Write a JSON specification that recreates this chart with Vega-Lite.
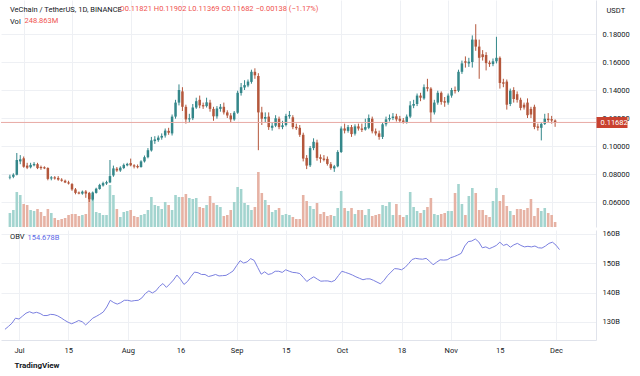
{
  "$schema": "https://vega.github.io/schema/vega-lite/v6.json",
  "padding": 0,
  "background": "white",
  "config": {"view": {"stroke": null}, "font": "Roboto"},
  "title": {"text": "TradingView", "orient": "bottom", "anchor": "start", "frame": "bounds", "fontSize": 8, "fontWeight": "bold", "color": "#131722", "offset": 8, "dx": 14},
  "data": {"values": [
    {"t":"2021-06-27","o":0.0775,"h":0.0795,"l":0.0762,"c":0.078,"v":700,"b":127.5},
    {"t":"2021-06-28","o":0.078,"h":0.0805,"l":0.077,"c":0.0795,"v":850,"b":128.5},
    {"t":"2021-06-29","o":0.0795,"h":0.095,"l":0.079,"c":0.09,"v":1750,"b":129.6},
    {"t":"2021-06-30","o":0.089,"h":0.0935,"l":0.087,"c":0.0905,"v":1600,"b":131.3},
    {"t":"2021-07-01","o":0.0912,"h":0.0925,"l":0.0845,"c":0.0852,"v":1150,"b":131.0},
    {"t":"2021-07-02","o":0.086,"h":0.088,"l":0.0835,"c":0.0845,"v":1100,"b":132.0},
    {"t":"2021-07-03","o":0.0848,"h":0.088,"l":0.084,"c":0.0865,"v":850,"b":133.0},
    {"t":"2021-07-04","o":0.0862,"h":0.0885,"l":0.0855,"c":0.0872,"v":800,"b":133.5},
    {"t":"2021-07-05","o":0.087,"h":0.088,"l":0.0835,"c":0.0842,"v":900,"b":133.0},
    {"t":"2021-07-06","o":0.085,"h":0.086,"l":0.083,"c":0.0842,"v":750,"b":133.3},
    {"t":"2021-07-07","o":0.0848,"h":0.0855,"l":0.0835,"c":0.084,"v":550,"b":132.9},
    {"t":"2021-07-08","o":0.0843,"h":0.0848,"l":0.0755,"c":0.0765,"v":900,"b":132.2},
    {"t":"2021-07-09","o":0.0768,"h":0.0785,"l":0.0755,"c":0.0776,"v":700,"b":132.2},
    {"t":"2021-07-10","o":0.0776,"h":0.0785,"l":0.076,"c":0.0768,"v":450,"b":132.6},
    {"t":"2021-07-11","o":0.0772,"h":0.0785,"l":0.0752,"c":0.076,"v":350,"b":132.5},
    {"t":"2021-07-12","o":0.076,"h":0.077,"l":0.0745,"c":0.0752,"v":400,"b":132.1},
    {"t":"2021-07-13","o":0.0752,"h":0.076,"l":0.0735,"c":0.074,"v":450,"b":131.4},
    {"t":"2021-07-14","o":0.074,"h":0.0752,"l":0.0725,"c":0.0732,"v":600,"b":130.6},
    {"t":"2021-07-15","o":0.0728,"h":0.0735,"l":0.068,"c":0.069,"v":650,"b":129.9},
    {"t":"2021-07-16","o":0.069,"h":0.07,"l":0.0655,"c":0.0665,"v":650,"b":129.4},
    {"t":"2021-07-17","o":0.0668,"h":0.0675,"l":0.0655,"c":0.066,"v":550,"b":129.9},
    {"t":"2021-07-18","o":0.066,"h":0.0682,"l":0.0652,"c":0.0674,"v":600,"b":130.5},
    {"t":"2021-07-19","o":0.0675,"h":0.0685,"l":0.063,"c":0.066,"v":650,"b":130.1},
    {"t":"2021-07-20","o":0.0665,"h":0.0672,"l":0.06,"c":0.062,"v":1650,"b":129.0},
    {"t":"2021-07-21","o":0.0618,"h":0.0675,"l":0.061,"c":0.0668,"v":1600,"b":130.1},
    {"t":"2021-07-22","o":0.0665,"h":0.0702,"l":0.066,"c":0.0695,"v":750,"b":131.3},
    {"t":"2021-07-23","o":0.0693,"h":0.073,"l":0.0688,"c":0.0722,"v":700,"b":131.9},
    {"t":"2021-07-24","o":0.0718,"h":0.0745,"l":0.071,"c":0.0735,"v":600,"b":132.6},
    {"t":"2021-07-25","o":0.0732,"h":0.0752,"l":0.0722,"c":0.0742,"v":600,"b":133.4},
    {"t":"2021-07-26","o":0.074,"h":0.09,"l":0.0735,"c":0.0785,"v":2100,"b":135.1},
    {"t":"2021-07-27","o":0.079,"h":0.086,"l":0.078,"c":0.084,"v":1600,"b":137.4},
    {"t":"2021-07-28","o":0.0838,"h":0.085,"l":0.0815,"c":0.0825,"v":900,"b":136.6},
    {"t":"2021-07-29","o":0.0825,"h":0.0855,"l":0.0815,"c":0.0845,"v":500,"b":136.1},
    {"t":"2021-07-30","o":0.0843,"h":0.0875,"l":0.0835,"c":0.0865,"v":750,"b":136.6},
    {"t":"2021-07-31","o":0.0862,"h":0.088,"l":0.0855,"c":0.0872,"v":800,"b":137.4},
    {"t":"2021-08-01","o":0.0878,"h":0.091,"l":0.0855,"c":0.0862,"v":850,"b":137.4},
    {"t":"2021-08-02","o":0.0862,"h":0.087,"l":0.084,"c":0.0853,"v":550,"b":137.1},
    {"t":"2021-08-03","o":0.0857,"h":0.0868,"l":0.084,"c":0.0848,"v":500,"b":137.3},
    {"t":"2021-08-04","o":0.085,"h":0.0898,"l":0.0845,"c":0.089,"v":600,"b":137.4},
    {"t":"2021-08-05","o":0.089,"h":0.0932,"l":0.0882,"c":0.092,"v":650,"b":138.2},
    {"t":"2021-08-06","o":0.092,"h":0.0985,"l":0.0912,"c":0.097,"v":850,"b":139.7},
    {"t":"2021-08-07","o":0.0968,"h":0.1065,"l":0.096,"c":0.104,"v":1500,"b":140.6},
    {"t":"2021-08-08","o":0.1035,"h":0.107,"l":0.1015,"c":0.1047,"v":1100,"b":139.9},
    {"t":"2021-08-09","o":0.1042,"h":0.1075,"l":0.103,"c":0.106,"v":1050,"b":140.6},
    {"t":"2021-08-10","o":0.106,"h":0.109,"l":0.1045,"c":0.1072,"v":900,"b":142.1},
    {"t":"2021-08-11","o":0.1075,"h":0.1125,"l":0.106,"c":0.111,"v":1250,"b":143.1},
    {"t":"2021-08-12","o":0.1108,"h":0.113,"l":0.108,"c":0.1095,"v":1100,"b":141.8},
    {"t":"2021-08-13","o":0.109,"h":0.1225,"l":0.1075,"c":0.121,"v":850,"b":143.0},
    {"t":"2021-08-14","o":0.121,"h":0.133,"l":0.1195,"c":0.131,"v":1600,"b":144.3},
    {"t":"2021-08-15","o":0.131,"h":0.144,"l":0.129,"c":0.14,"v":1500,"b":146.0},
    {"t":"2021-08-16","o":0.139,"h":0.142,"l":0.125,"c":0.128,"v":1500,"b":144.6},
    {"t":"2021-08-17","o":0.128,"h":0.1295,"l":0.116,"c":0.119,"v":1650,"b":142.8},
    {"t":"2021-08-18","o":0.119,"h":0.123,"l":0.1165,"c":0.1198,"v":1450,"b":143.8},
    {"t":"2021-08-19","o":0.1198,"h":0.13,"l":0.1185,"c":0.1275,"v":1400,"b":145.5},
    {"t":"2021-08-20","o":0.1275,"h":0.1345,"l":0.1265,"c":0.132,"v":1450,"b":147.0},
    {"t":"2021-08-21","o":0.133,"h":0.136,"l":0.127,"c":0.129,"v":1000,"b":146.8},
    {"t":"2021-08-22","o":0.1292,"h":0.131,"l":0.1265,"c":0.1283,"v":950,"b":146.2},
    {"t":"2021-08-23","o":0.1285,"h":0.1345,"l":0.1275,"c":0.1312,"v":1100,"b":146.2},
    {"t":"2021-08-24","o":0.131,"h":0.133,"l":0.1245,"c":0.1265,"v":1550,"b":145.5},
    {"t":"2021-08-25","o":0.1265,"h":0.128,"l":0.118,"c":0.1212,"v":1200,"b":145.8},
    {"t":"2021-08-26","o":0.1212,"h":0.1285,"l":0.1195,"c":0.1268,"v":1100,"b":146.2},
    {"t":"2021-08-27","o":0.1265,"h":0.13,"l":0.1245,"c":0.128,"v":1000,"b":145.7},
    {"t":"2021-08-28","o":0.128,"h":0.131,"l":0.1225,"c":0.124,"v":550,"b":145.8},
    {"t":"2021-08-29","o":0.124,"h":0.1255,"l":0.12,"c":0.1218,"v":600,"b":145.9},
    {"t":"2021-08-30","o":0.1218,"h":0.1235,"l":0.117,"c":0.119,"v":850,"b":146.6},
    {"t":"2021-08-31","o":0.119,"h":0.125,"l":0.118,"c":0.1238,"v":1250,"b":147.4},
    {"t":"2021-09-01","o":0.1238,"h":0.1395,"l":0.123,"c":0.138,"v":2000,"b":149.2},
    {"t":"2021-09-02","o":0.1378,"h":0.145,"l":0.136,"c":0.142,"v":1900,"b":150.9},
    {"t":"2021-09-03","o":0.1418,"h":0.147,"l":0.14,"c":0.1435,"v":1200,"b":150.1},
    {"t":"2021-09-04","o":0.1432,"h":0.1475,"l":0.142,"c":0.146,"v":1100,"b":150.5},
    {"t":"2021-09-05","o":0.1458,"h":0.1545,"l":0.1445,"c":0.153,"v":850,"b":151.6},
    {"t":"2021-09-06","o":0.153,"h":0.1555,"l":0.148,"c":0.1505,"v":1000,"b":151.0},
    {"t":"2021-09-07","o":0.15,"h":0.152,"l":0.097,"c":0.124,"v":2750,"b":148.6},
    {"t":"2021-09-08","o":0.124,"h":0.128,"l":0.115,"c":0.1195,"v":1700,"b":146.3},
    {"t":"2021-09-09","o":0.1195,"h":0.124,"l":0.117,"c":0.1207,"v":1350,"b":147.1},
    {"t":"2021-09-10","o":0.121,"h":0.124,"l":0.1115,"c":0.1135,"v":1100,"b":146.2},
    {"t":"2021-09-11","o":0.113,"h":0.117,"l":0.111,"c":0.1145,"v":750,"b":146.5},
    {"t":"2021-09-12","o":0.1145,"h":0.122,"l":0.1135,"c":0.1198,"v":850,"b":147.3},
    {"t":"2021-09-13","o":0.1195,"h":0.121,"l":0.112,"c":0.1135,"v":950,"b":147.3},
    {"t":"2021-09-14","o":0.1135,"h":0.118,"l":0.112,"c":0.1148,"v":600,"b":146.9},
    {"t":"2021-09-15","o":0.115,"h":0.123,"l":0.114,"c":0.1215,"v":650,"b":147.8},
    {"t":"2021-09-16","o":0.1212,"h":0.125,"l":0.1195,"c":0.1222,"v":600,"b":147.3},
    {"t":"2021-09-17","o":0.1205,"h":0.122,"l":0.112,"c":0.1135,"v":500,"b":146.9},
    {"t":"2021-09-18","o":0.1137,"h":0.116,"l":0.1115,"c":0.1127,"v":400,"b":146.8},
    {"t":"2021-09-19","o":0.113,"h":0.115,"l":0.1065,"c":0.108,"v":400,"b":146.5},
    {"t":"2021-09-20","o":0.108,"h":0.1095,"l":0.089,"c":0.091,"v":1600,"b":145.2},
    {"t":"2021-09-21","o":0.0915,"h":0.0935,"l":0.0835,"c":0.086,"v":1300,"b":143.8},
    {"t":"2021-09-22","o":0.0862,"h":0.1,"l":0.085,"c":0.0985,"v":1050,"b":144.7},
    {"t":"2021-09-23","o":0.0985,"h":0.1055,"l":0.097,"c":0.103,"v":900,"b":145.4},
    {"t":"2021-09-24","o":0.1025,"h":0.1045,"l":0.0895,"c":0.0915,"v":1200,"b":144.6},
    {"t":"2021-09-25","o":0.092,"h":0.094,"l":0.088,"c":0.0908,"v":650,"b":143.9},
    {"t":"2021-09-26","o":0.091,"h":0.0935,"l":0.089,"c":0.0901,"v":750,"b":144.0},
    {"t":"2021-09-27","o":0.0908,"h":0.0925,"l":0.086,"c":0.0872,"v":550,"b":144.0},
    {"t":"2021-09-28","o":0.087,"h":0.0885,"l":0.083,"c":0.0842,"v":600,"b":143.7},
    {"t":"2021-09-29","o":0.084,"h":0.0865,"l":0.0815,"c":0.0855,"v":550,"b":144.2},
    {"t":"2021-09-30","o":0.0855,"h":0.097,"l":0.0848,"c":0.0957,"v":950,"b":145.8},
    {"t":"2021-10-01","o":0.0957,"h":0.114,"l":0.095,"c":0.1125,"v":1800,"b":147.3},
    {"t":"2021-10-02","o":0.1125,"h":0.116,"l":0.109,"c":0.111,"v":950,"b":146.9},
    {"t":"2021-10-03","o":0.1108,"h":0.115,"l":0.1095,"c":0.1135,"v":800,"b":146.5},
    {"t":"2021-10-04","o":0.1135,"h":0.115,"l":0.1065,"c":0.1085,"v":950,"b":146.0},
    {"t":"2021-10-05","o":0.1088,"h":0.1155,"l":0.1075,"c":0.114,"v":650,"b":145.4},
    {"t":"2021-10-06","o":0.114,"h":0.116,"l":0.111,"c":0.1125,"v":850,"b":144.9},
    {"t":"2021-10-07","o":0.1125,"h":0.116,"l":0.11,"c":0.1115,"v":850,"b":144.4},
    {"t":"2021-10-08","o":0.1117,"h":0.1195,"l":0.111,"c":0.1135,"v":600,"b":144.7},
    {"t":"2021-10-09","o":0.113,"h":0.1225,"l":0.112,"c":0.12,"v":900,"b":144.7},
    {"t":"2021-10-10","o":0.1195,"h":0.121,"l":0.109,"c":0.1105,"v":550,"b":144.2},
    {"t":"2021-10-11","o":0.1105,"h":0.1125,"l":0.1075,"c":0.109,"v":600,"b":143.6},
    {"t":"2021-10-12","o":0.109,"h":0.111,"l":0.1045,"c":0.1065,"v":650,"b":143.0},
    {"t":"2021-10-13","o":0.1065,"h":0.117,"l":0.105,"c":0.1155,"v":1100,"b":144.2},
    {"t":"2021-10-14","o":0.1155,"h":0.121,"l":0.114,"c":0.119,"v":1050,"b":145.8},
    {"t":"2021-10-15","o":0.119,"h":0.1225,"l":0.1175,"c":0.12,"v":1250,"b":147.0},
    {"t":"2021-10-16","o":0.12,"h":0.1235,"l":0.1185,"c":0.121,"v":600,"b":148.2},
    {"t":"2021-10-17","o":0.1212,"h":0.123,"l":0.1175,"c":0.119,"v":1150,"b":148.1},
    {"t":"2021-10-18","o":0.1195,"h":0.1215,"l":0.1165,"c":0.118,"v":600,"b":147.8},
    {"t":"2021-10-19","o":0.1182,"h":0.12,"l":0.116,"c":0.1172,"v":500,"b":148.6},
    {"t":"2021-10-20","o":0.1172,"h":0.1225,"l":0.116,"c":0.121,"v":600,"b":149.9},
    {"t":"2021-10-21","o":0.121,"h":0.132,"l":0.12,"c":0.129,"v":1750,"b":151.3},
    {"t":"2021-10-22","o":0.1288,"h":0.133,"l":0.127,"c":0.13,"v":1000,"b":151.7},
    {"t":"2021-10-23","o":0.13,"h":0.1375,"l":0.1285,"c":0.136,"v":800,"b":151.5},
    {"t":"2021-10-24","o":0.136,"h":0.138,"l":0.132,"c":0.1345,"v":700,"b":151.4},
    {"t":"2021-10-25","o":0.134,"h":0.144,"l":0.133,"c":0.142,"v":850,"b":151.7},
    {"t":"2021-10-26","o":0.142,"h":0.148,"l":0.139,"c":0.141,"v":1000,"b":150.7},
    {"t":"2021-10-27","o":0.141,"h":0.142,"l":0.117,"c":0.124,"v":1450,"b":149.5},
    {"t":"2021-10-28","o":0.124,"h":0.133,"l":0.1225,"c":0.131,"v":650,"b":150.4},
    {"t":"2021-10-29","o":0.131,"h":0.1395,"l":0.1295,"c":0.138,"v":600,"b":151.2},
    {"t":"2021-10-30","o":0.138,"h":0.139,"l":0.1295,"c":0.1315,"v":650,"b":151.1},
    {"t":"2021-10-31","o":0.132,"h":0.135,"l":0.128,"c":0.131,"v":700,"b":151.2},
    {"t":"2021-11-01","o":0.131,"h":0.1375,"l":0.1295,"c":0.136,"v":800,"b":151.9},
    {"t":"2021-11-02","o":0.136,"h":0.1415,"l":0.1345,"c":0.14,"v":800,"b":152.3},
    {"t":"2021-11-03","o":0.14,"h":0.1425,"l":0.1375,"c":0.1392,"v":1700,"b":152.8},
    {"t":"2021-11-04","o":0.1395,"h":0.1545,"l":0.1385,"c":0.153,"v":2150,"b":153.4},
    {"t":"2021-11-05","o":0.153,"h":0.161,"l":0.1515,"c":0.159,"v":1150,"b":155.9},
    {"t":"2021-11-06","o":0.1605,"h":0.164,"l":0.156,"c":0.1595,"v":600,"b":157.4},
    {"t":"2021-11-07","o":0.159,"h":0.163,"l":0.1565,"c":0.1602,"v":1550,"b":157.6},
    {"t":"2021-11-08","o":0.16,"h":0.179,"l":0.156,"c":0.176,"v":1950,"b":158.3},
    {"t":"2021-11-09","o":0.176,"h":0.187,"l":0.168,"c":0.171,"v":1700,"b":157.3},
    {"t":"2021-11-10","o":0.171,"h":0.176,"l":0.148,"c":0.163,"v":850,"b":155.3},
    {"t":"2021-11-11","o":0.1655,"h":0.1685,"l":0.161,"c":0.1635,"v":850,"b":155.6},
    {"t":"2021-11-12","o":0.165,"h":0.167,"l":0.154,"c":0.1592,"v":600,"b":155.0},
    {"t":"2021-11-13","o":0.1595,"h":0.161,"l":0.1565,"c":0.1585,"v":500,"b":155.5},
    {"t":"2021-11-14","o":0.1585,"h":0.1625,"l":0.157,"c":0.1605,"v":1300,"b":156.1},
    {"t":"2021-11-15","o":0.1605,"h":0.178,"l":0.159,"c":0.163,"v":1950,"b":157.2},
    {"t":"2021-11-16","o":0.163,"h":0.164,"l":0.141,"c":0.145,"v":1300,"b":156.1},
    {"t":"2021-11-17","o":0.1455,"h":0.148,"l":0.142,"c":0.1445,"v":1600,"b":156.5},
    {"t":"2021-11-18","o":0.146,"h":0.1475,"l":0.126,"c":0.1295,"v":1050,"b":155.5},
    {"t":"2021-11-19","o":0.13,"h":0.141,"l":0.1285,"c":0.1395,"v":800,"b":156.3},
    {"t":"2021-11-20","o":0.14,"h":0.142,"l":0.131,"c":0.1335,"v":600,"b":156.8},
    {"t":"2021-11-21","o":0.137,"h":0.139,"l":0.131,"c":0.133,"v":900,"b":156.1},
    {"t":"2021-11-22","o":0.133,"h":0.1345,"l":0.1255,"c":0.1272,"v":900,"b":155.6},
    {"t":"2021-11-23","o":0.1295,"h":0.131,"l":0.126,"c":0.1275,"v":850,"b":155.8},
    {"t":"2021-11-24","o":0.131,"h":0.134,"l":0.12,"c":0.122,"v":950,"b":155.6},
    {"t":"2021-11-25","o":0.1265,"h":0.128,"l":0.12,"c":0.1225,"v":1400,"b":155.9},
    {"t":"2021-11-26","o":0.128,"h":0.1295,"l":0.112,"c":0.1136,"v":550,"b":155.3},
    {"t":"2021-11-27","o":0.114,"h":0.116,"l":0.111,"c":0.113,"v":950,"b":155.2},
    {"t":"2021-11-28","o":0.113,"h":0.117,"l":0.104,"c":0.1158,"v":800,"b":155.9},
    {"t":"2021-11-29","o":0.1158,"h":0.123,"l":0.115,"c":0.1195,"v":950,"b":156.8},
    {"t":"2021-11-30","o":0.1195,"h":0.1235,"l":0.117,"c":0.1185,"v":700,"b":157.2},
    {"t":"2021-12-01","o":0.1192,"h":0.1215,"l":0.116,"c":0.1182,"v":600,"b":156.2},
    {"t":"2021-12-02","o":0.11821,"h":0.11902,"l":0.11369,"c":0.11682,"v":248.863,"b":154.678}
  ]},
  "spacing": 2,
  "vconcat": [
    {
      "width": 595,
      "height": 227,
      "title": {"text": "VeChain / TetherUS, 1D, BINANCE", "subtitle": "Vol", "anchor": "start", "frame": "group", "dx": 9, "offset": -25, "fontSize": 7.5, "fontWeight": "normal", "color": "#131722", "subtitleFontSize": 7.5, "subtitleColor": "#131722", "subtitlePadding": 4},
      "layer": [
        {
          "mark": {"type": "bar", "width": 2.6},
          "encoding": {
            "x": {"field": "t", "type": "temporal",
              "scale": {"type": "utc", "domain": [{"year":2021,"month":6,"date":25,"hours":20,"minutes":53,"utc":true},{"year":2021,"month":12,"date":12,"hours":9,"minutes":36,"utc":true}]},
              "axis": {"values": [{"year":2021,"month":7,"date":1,"utc":true},{"year":2021,"month":7,"date":15,"utc":true},{"year":2021,"month":8,"date":1,"utc":true},{"year":2021,"month":8,"date":16,"utc":true},{"year":2021,"month":9,"date":1,"utc":true},{"year":2021,"month":9,"date":15,"utc":true},{"year":2021,"month":10,"date":1,"utc":true},{"year":2021,"month":10,"date":18,"utc":true},{"year":2021,"month":11,"date":1,"utc":true},{"year":2021,"month":11,"date":15,"utc":true},{"year":2021,"month":12,"date":1,"utc":true}],
                "labels": false, "ticks": false, "domain": false, "grid": true, "gridColor": "#eef0f4",
                "title": "O0.11821  H0.11902  L0.11369  C0.11682  −0.00138 (−1.17%)", "titleColor": "#ef5350", "titleFontSize": 7.5, "titleFontWeight": "normal", "titleAngle": 0, "titleAlign": "left", "titleBaseline": "middle", "titleX": 118, "titleY": -219}},
            "y": {"field": "v", "type": "quantitative", "scale": {"domain": [0, 11350], "nice": false},
              "axis": {"orient": "left", "labels": false, "ticks": false, "domain": false, "grid": false,
                "title": "248.863M", "titleColor": "#ef5350", "titleFontSize": 7.5, "titleFontWeight": "normal", "titleAngle": 0, "titleAlign": "left", "titleBaseline": "middle", "titleX": 23, "titleY": 20}},
            "color": {"condition": {"test": "datum.c >= datum.o", "value": "#a3d4cf"}, "value": "#e6b2a4"}
          }
        },
        {
          "layer": [
            {
              "mark": {"type": "rule", "strokeWidth": 1},
              "encoding": {
                "x": {"field": "t", "type": "temporal",
                  "scale": {"type": "utc", "domain": [{"year":2021,"month":6,"date":25,"hours":20,"minutes":53,"utc":true},{"year":2021,"month":12,"date":12,"hours":9,"minutes":36,"utc":true}]},
                  "axis": {"values": [{"year":2021,"month":7,"date":1,"utc":true},{"year":2021,"month":7,"date":15,"utc":true},{"year":2021,"month":8,"date":1,"utc":true},{"year":2021,"month":8,"date":16,"utc":true},{"year":2021,"month":9,"date":1,"utc":true},{"year":2021,"month":9,"date":15,"utc":true},{"year":2021,"month":10,"date":1,"utc":true},{"year":2021,"month":10,"date":18,"utc":true},{"year":2021,"month":11,"date":1,"utc":true},{"year":2021,"month":11,"date":15,"utc":true},{"year":2021,"month":12,"date":1,"utc":true}],
                    "labels": false, "ticks": false, "domain": false, "grid": true, "gridColor": "#eef0f4",
                    "title": "O0.11821  H0.11902  L0.11369  C0.11682  −0.00138 (−1.17%)", "titleColor": "#ef5350", "titleFontSize": 7.5, "titleFontWeight": "normal", "titleAngle": 0, "titleAlign": "left", "titleBaseline": "middle", "titleX": 118, "titleY": -219}},
                "y": {"field": "l", "type": "quantitative", "scale": {"domain": [0.042143, 0.204286], "nice": false, "zero": false},
                  "axis": {"orient": "right", "values": [0.06, 0.08, 0.1, 0.12, 0.14, 0.16, 0.18], "format": ".5f", "grid": true, "gridColor": "#eef0f4", "ticks": false, "domain": true, "domainColor": "#e0e3eb", "labelFontSize": 7.5, "labelColor": "#131722", "labelPadding": 6,
                    "title": "USDT", "titleAngle": 0, "titleFontSize": 7.5, "titleFontWeight": "normal", "titleColor": "#131722", "titleAlign": "left", "titleBaseline": "middle", "titleX": 10, "titleY": 10}},
                "y2": {"field": "h"},
                "color": {"condition": {"test": "datum.c >= datum.o", "value": "#34878a"}, "value": "#b4573c"}
              }
            },
            {
              "mark": {"type": "bar", "width": 2.5},
              "encoding": {
                "x": {"field": "t", "type": "temporal",
                  "scale": {"type": "utc", "domain": [{"year":2021,"month":6,"date":25,"hours":20,"minutes":53,"utc":true},{"year":2021,"month":12,"date":12,"hours":9,"minutes":36,"utc":true}]},
                  "axis": {"values": [{"year":2021,"month":7,"date":1,"utc":true},{"year":2021,"month":7,"date":15,"utc":true},{"year":2021,"month":8,"date":1,"utc":true},{"year":2021,"month":8,"date":16,"utc":true},{"year":2021,"month":9,"date":1,"utc":true},{"year":2021,"month":9,"date":15,"utc":true},{"year":2021,"month":10,"date":1,"utc":true},{"year":2021,"month":10,"date":18,"utc":true},{"year":2021,"month":11,"date":1,"utc":true},{"year":2021,"month":11,"date":15,"utc":true},{"year":2021,"month":12,"date":1,"utc":true}],
                    "labels": false, "ticks": false, "domain": false, "grid": true, "gridColor": "#eef0f4",
                    "title": "O0.11821  H0.11902  L0.11369  C0.11682  −0.00138 (−1.17%)", "titleColor": "#ef5350", "titleFontSize": 7.5, "titleFontWeight": "normal", "titleAngle": 0, "titleAlign": "left", "titleBaseline": "middle", "titleX": 118, "titleY": -219}},
                "y": {"field": "o", "type": "quantitative", "scale": {"domain": [0.042143, 0.204286], "nice": false, "zero": false},
                  "axis": {"orient": "right", "values": [0.06, 0.08, 0.1, 0.12, 0.14, 0.16, 0.18], "format": ".5f", "grid": true, "gridColor": "#eef0f4", "ticks": false, "domain": true, "domainColor": "#e0e3eb", "labelFontSize": 7.5, "labelColor": "#131722", "labelPadding": 6,
                    "title": "USDT", "titleAngle": 0, "titleFontSize": 7.5, "titleFontWeight": "normal", "titleColor": "#131722", "titleAlign": "left", "titleBaseline": "middle", "titleX": 10, "titleY": 10}},
                "y2": {"field": "c"},
                "color": {"condition": {"test": "datum.c >= datum.o", "value": "#34878a"}, "value": "#b4573c"}
              }
            }
          ]
        },
        {
          "data": {"values": [{}]},
          "mark": {"type": "rule", "color": "#e8a9a4", "strokeWidth": 1},
          "encoding": {
            "y": {"datum": 0.11682, "type": "quantitative", "scale": {"domain": [0.042143, 0.204286], "nice": false, "zero": false},
              "axis": {"orient": "right", "values": [0.11682], "format": ".5f", "grid": false, "domain": false, "ticks": true, "tickColor": "#c9412f", "tickWidth": 11, "tickSize": 31, "tickCap": "butt", "labelColor": "#ffffff", "labelFontSize": 7.5, "labelPadding": -27, "title": null}}
          }
        }
      ],
      "resolve": {"scale": {"y": "independent"}}
    },
    {
      "width": 595,
      "height": 110,
      "title": {"text": "OBV", "anchor": "start", "frame": "group", "dx": 9, "offset": -11, "fontSize": 7.5, "fontWeight": "normal", "color": "#131722"},
      "mark": {"type": "line", "color": "#7b80e0", "strokeWidth": 1},
      "encoding": {
        "x": {"field": "t", "type": "temporal",
          "scale": {"type": "utc", "domain": [{"year":2021,"month":6,"date":25,"hours":20,"minutes":53,"utc":true},{"year":2021,"month":12,"date":12,"hours":9,"minutes":36,"utc":true}]},
          "axis": {"values": [{"year":2021,"month":7,"date":1,"utc":true},{"year":2021,"month":7,"date":15,"utc":true},{"year":2021,"month":8,"date":1,"utc":true},{"year":2021,"month":8,"date":16,"utc":true},{"year":2021,"month":9,"date":1,"utc":true},{"year":2021,"month":9,"date":15,"utc":true},{"year":2021,"month":10,"date":1,"utc":true},{"year":2021,"month":10,"date":18,"utc":true},{"year":2021,"month":11,"date":1,"utc":true},{"year":2021,"month":11,"date":15,"utc":true},{"year":2021,"month":12,"date":1,"utc":true}],
            "labelExpr": "utcdate(datum.value) == 1 ? utcFormat(datum.value, '%b') : utcFormat(datum.value, '%-d')",
            "grid": true, "gridColor": "#eef0f4", "ticks": false, "domain": true, "domainColor": "#e0e3eb", "labelFontSize": 7.5, "labelColor": "#131722", "labelPadding": 6,
            "title": "154.678B", "titleColor": "#5b67e6", "titleFontSize": 7.5, "titleFontWeight": "normal", "titleAngle": 0, "titleAlign": "left", "titleBaseline": "middle", "titleX": 26, "titleY": -103}},
        "y": {"field": "b", "type": "quantitative", "scale": {"domain": [123.86, 161.36], "nice": false, "zero": false},
          "axis": {"orient": "right", "values": [130, 140, 150, 160], "labelExpr": "datum.value + 'B'", "grid": true, "gridColor": "#eef0f4", "ticks": false, "domain": true, "domainColor": "#e0e3eb", "labelFontSize": 7.5, "labelColor": "#131722", "labelPadding": 6, "title": null}}
      }
    }
  ]
}
